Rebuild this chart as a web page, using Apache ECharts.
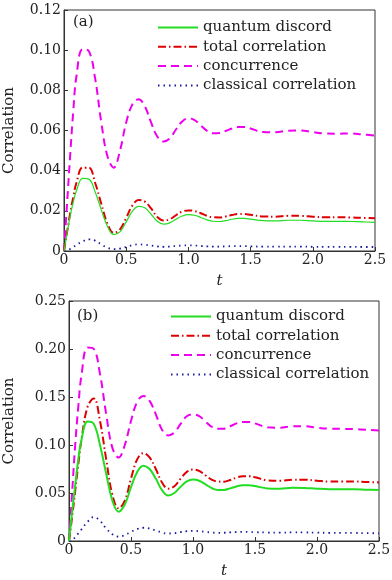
<!DOCTYPE html>
<html><head><meta charset="utf-8">
<script src="https://cdn.jsdelivr.net/npm/echarts@6/dist/echarts.min.js"></script>
<style>html,body{margin:0;padding:0;background:#fff}#c{width:392px;height:580px}</style>
</head><body><div id="c"></div>
<script>
const T = [0,0.025,0.05,0.075,0.1,0.15,0.2,0.25,0.3,0.35,0.4,0.45,0.5,0.55,0.6,0.65,0.7,0.75,0.8,0.85,0.9,0.95,1.0,1.05,1.1,1.15,1.2,1.25,1.3,1.35,1.4,1.45,1.5,1.6,1.7,1.8,1.9,2.0,2.1,2.2,2.3,2.4,2.5];
const seriesNames = ['quantum discord','total correlation','concurrence','classical correlation'];
const xTicks = ['0','0.5','1.0','1.5','2.0','2.5'];
const yTicksA = ['0','0.02','0.04','0.06','0.08','0.10','0.12'];
const yTicksB = ['0','0.05','0.10','0.15','0.20','0.25'];

// panel (a)
const aDiscord = [0,0.009,0.0175,0.0245,0.030,0.0362,0.0358,0.0295,0.0205,0.0122,0.0082,0.0095,0.0145,0.0198,0.0222,0.0215,0.0183,0.0148,0.0134,0.014,0.0158,0.0174,0.0181,0.0178,0.0167,0.0155,0.0148,0.0147,0.0151,0.0158,0.0162,0.0162,0.0159,0.0151,0.015,0.0153,0.0153,0.015,0.0148,0.0148,0.0147,0.0145,0.0143];
const aTotal = [0,0.0095,0.019,0.027,0.034,0.0415,0.0415,0.034,0.0235,0.0135,0.009,0.0108,0.0165,0.0227,0.0254,0.0246,0.0212,0.017,0.0152,0.0158,0.0178,0.0196,0.0202,0.0199,0.0188,0.0175,0.0168,0.0167,0.0172,0.0179,0.0184,0.0184,0.018,0.0172,0.0171,0.0175,0.0175,0.0171,0.0168,0.0168,0.0167,0.0165,0.0163];
const aConcurrence = [0,0.024,0.048,0.07,0.087,0.1005,0.0995,0.086,0.064,0.047,0.0415,0.05,0.064,0.073,0.0755,0.072,0.064,0.057,0.0545,0.056,0.0605,0.0645,0.066,0.0652,0.0625,0.0598,0.0586,0.0588,0.0598,0.061,0.0617,0.0617,0.061,0.0592,0.0591,0.0599,0.06,0.0592,0.0585,0.0584,0.0585,0.058,0.0575];
const aClassical = [0,0.0003,0.001,0.002,0.003,0.0048,0.0058,0.0052,0.0033,0.0016,0.0009,0.0012,0.002,0.0029,0.0033,0.0031,0.0027,0.0023,0.0021,0.0022,0.0025,0.0027,0.0028,0.0027,0.0025,0.0023,0.0022,0.0022,0.0023,0.0024,0.0024,0.0024,0.0023,0.0022,0.0022,0.0022,0.0022,0.0021,0.0021,0.0021,0.0021,0.002,0.002];

// panel (b)
const bDiscord = [0,0.03,0.058,0.085,0.105,0.1245,0.122,0.1,0.07,0.042,0.0305,0.038,0.056,0.072,0.0785,0.075,0.065,0.053,0.0475,0.05,0.0565,0.062,0.064,0.0628,0.059,0.0552,0.0532,0.0532,0.0548,0.0568,0.058,0.058,0.0572,0.0548,0.0545,0.0555,0.0553,0.0545,0.054,0.054,0.054,0.0535,0.053];
const bTotal = [0,0.025,0.052,0.08,0.105,0.14,0.1485,0.125,0.085,0.048,0.034,0.042,0.065,0.085,0.0915,0.087,0.075,0.061,0.0545,0.057,0.065,0.072,0.0745,0.073,0.0685,0.064,0.062,0.0618,0.0635,0.066,0.0675,0.0675,0.0665,0.0632,0.0628,0.0638,0.0638,0.0628,0.062,0.062,0.062,0.0615,0.061];
const bConcurrence = [0,0.05,0.1,0.14,0.172,0.2015,0.2,0.174,0.132,0.097,0.087,0.1,0.125,0.145,0.151,0.146,0.132,0.116,0.11,0.113,0.122,0.13,0.132,0.13,0.1245,0.119,0.117,0.117,0.1195,0.1225,0.124,0.124,0.1225,0.1185,0.118,0.1195,0.1195,0.118,0.117,0.1168,0.1165,0.1158,0.115];
const bClassical = [0,0.001,0.004,0.008,0.012,0.02,0.025,0.021,0.013,0.007,0.0045,0.006,0.0095,0.0125,0.0138,0.013,0.011,0.0088,0.0078,0.0082,0.0093,0.0102,0.0105,0.0102,0.0095,0.0088,0.0085,0.0086,0.009,0.0093,0.0095,0.0094,0.0092,0.0088,0.0087,0.0089,0.0089,0.0087,0.0085,0.0085,0.0084,0.0082,0.008];

const FONT = 'DejaVu Serif';
const zip = arr => T.map((t,i)=>[t,arr[i]]);
const styles = [
  {color:'#22dd22', type:'solid'},
  {color:'#dd0000', type:[8,3,1.5,3]},
  {color:'#ee00ee', type:[8,5]},
  {color:'#1a1aa0', type:[1.5,4]}
];
const widthsA = [1.2,2,2,1.8];
const widthsB = [2,2,2,1.8];

function xAxis(gi){
  return {type:'value', gridIndex:gi, min:0, max:2.5, interval:0.5,
    axisLine:{show:true,onZero:false,lineStyle:{color:'#333',width:1}},
    axisTick:{show:true,inside:true,length:4,lineStyle:{color:'#333'}},
    splitLine:{show:false},
    axisLabel:{margin:2,color:'#222',fontFamily:FONT,fontSize:14,formatter:(v)=>xTicks[Math.round(v/0.5)]},
    name:'t', nameLocation:'middle', nameGap:23,
    nameTextStyle:{fontFamily:FONT,fontStyle:'italic',fontSize:15,color:'#222'}};
}
function yAxis(gi,max,interval,ticks){
  return {type:'value', gridIndex:gi, min:0, max:max, interval:interval,
    axisLine:{show:true,lineStyle:{color:'#333',width:1}},
    axisTick:{show:true,inside:true,length:4,lineStyle:{color:'#333'}},
    splitLine:{show:false},
    axisLabel:{margin:3,color:'#222',fontFamily:FONT,fontSize:14,formatter:(v)=>ticks[Math.round(v/interval)]},
    name:'Correlation', nameLocation:'middle', nameGap:gi===0?47:52,
    nameTextStyle:{fontFamily:FONT,fontSize:15,color:'#222'}};
}
const dataA=[aDiscord,aTotal,aConcurrence,aClassical];
const dataB=[bDiscord,bTotal,bConcurrence,bClassical];
const series=[];
dataA.forEach((d,i)=>series.push({type:'line',name:seriesNames[i],xAxisIndex:0,yAxisIndex:0,data:zip(d),smooth:0.4,showSymbol:false,symbol:'none',
  lineStyle:{color:styles[i].color,type:styles[i].type,width:widthsA[i]},itemStyle:{color:styles[i].color},z:10-i}));
dataB.forEach((d,i)=>series.push({type:'line',name:seriesNames[i]+' ',xAxisIndex:1,yAxisIndex:1,data:zip(d),smooth:0.4,showSymbol:false,symbol:'none',
  lineStyle:{color:styles[i].color,type:styles[i].type,width:widthsB[i]},itemStyle:{color:styles[i].color},z:10-i}));

const legendCommon={orient:'vertical',padding:0,itemWidth:40,itemHeight:14,itemGap:4.3,selectedMode:false,
  itemStyle:{opacity:0,borderWidth:0},
  textStyle:{fontFamily:FONT,fontSize:15,color:'#222',lineHeight:14,padding:[0,0,0,0]}};
const chart=echarts.init(document.getElementById('c'),null,{renderer:'canvas'});
chart.setOption({
  animation:false,
  backgroundColor:'#fff',
  grid:[
    {left:64,right:17,top:10,bottom:329,show:true,borderColor:'#333',borderWidth:1,backgroundColor:'transparent',containLabel:false,outerBoundsMode:'none'},
    {left:69,right:13,top:301,bottom:39,show:true,borderColor:'#333',borderWidth:1,backgroundColor:'transparent',containLabel:false,outerBoundsMode:'none'}
  ],
  xAxis:[xAxis(0),xAxis(1)],
  yAxis:[yAxis(0,0.12,0.02,yTicksA),yAxis(1,0.25,0.05,yTicksB)],
  legend:[
    Object.assign({},legendCommon,{left:157,top:20,data:seriesNames}),
    Object.assign({},legendCommon,{left:170,top:309,data:seriesNames.map(s=>s+' ')})
  ],
  graphic:[
    {type:'text',left:73,top:15,style:{text:'(a)',font:'15px "DejaVu Serif"',fill:'#222'}},
    {type:'text',left:77,top:309,style:{text:'(b)',font:'15px "DejaVu Serif"',fill:'#222'}}
  ],
  series:series
});
</script></body></html>
